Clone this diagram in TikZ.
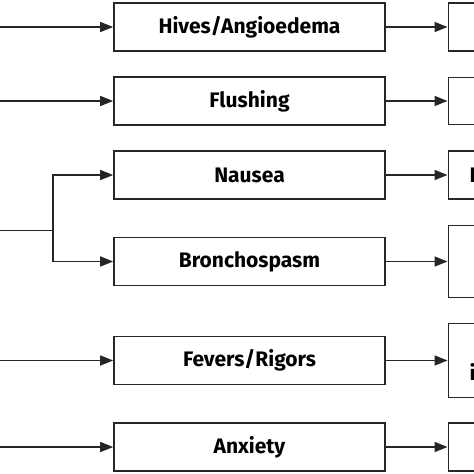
\documentclass[tikz,border=0pt]{standalone}
\usepackage{fontspec}
\setmainfont{Fira Sans}
\usetikzlibrary{arrows.meta}

\begin{document}
\begin{tikzpicture}[x=1pt,y=-1pt,
sign/.style={draw=black!85, line width=1.6pt, minimum width=271pt, minimum height=48pt, inner sep=0pt, font=\fontsize{21}{25}\selectfont\bfseries},
care/.style={draw=black!85, line width=1.6pt, minimum width=60pt, anchor=west, inner sep=0pt},
cut/.style={anchor=base west, inner sep=0pt, font=\fontsize{21}{25}\selectfont\bfseries},
flow/.style={-{Triangle[length=13pt,width=10pt]}, line width=1.6pt, draw=black!85},
]
\useasboundingbox (0,0) rectangle (474,474);
\clip (0,0) rectangle (474,474);

% reactions
\node[sign] (hives) at (249.5,27) {Hives/Angioedema};
\node[sign] (flush) at (249.5,101) {Flushing};
\node[sign] (nausea) at (249.5,175) {Nausea};
\node[sign] (broncho) at (249.5,261.5) {Bronchospasm};
\node[sign] (fever) at (249.5,360.5) {Fevers/Rigors};
\node[sign] (anxiety) at (249.5,447) {Anxiety};

% management, cut at the right edge
\node[care, minimum height=48pt] (treatA) at (447.5,27) {};
\node[care, minimum height=47pt] (treatB) at (447.5,101) {};
\node[care, minimum height=48pt] (treatC) at (447.5,175) {};
\node[care, minimum height=72pt] (treatD) at (447.5,261.5) {};
\node[care, minimum height=74pt] (treatE) at (447.5,360.5) {};
\node[care, minimum height=48pt] (treatF) at (447.5,447) {};
\node[cut] (textC) at (469.5,182) {I};
\node[cut] (textE) at (469.5,380) {i};

\coordinate (inA) at (0,27);
\coordinate (inB) at (0,101);
\coordinate (inC) at (0,230.5);
\coordinate (split) at (53,230.5);
\coordinate (inE) at (0,360.5);
\coordinate (inF) at (0,447);

\draw[flow] (inA) -- (hives.west);
\draw[flow] (inB) -- (flush.west);
\draw[line width=1.6pt, draw=black!85] (inC) -- (split);
\draw[flow] (split) |- (nausea.west);
\draw[flow] (split) |- (broncho.west);
\draw[flow] (inE) -- (fever.west);
\draw[flow] (inF) -- (anxiety.west);

\draw[flow] (hives.east) -- (treatA.west);
\draw[flow] (flush.east) -- (treatB.west);
\draw[flow] (nausea.east) -- (treatC.west);
\draw[flow] (broncho.east) -- (treatD.west);
\draw[flow] (fever.east) -- (treatE.west);
\draw[flow] (anxiety.east) -- (treatF.west);

\end{tikzpicture}
\end{document}
